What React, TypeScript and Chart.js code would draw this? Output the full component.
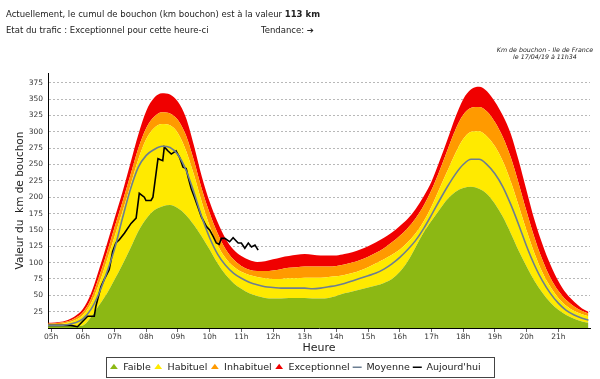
import React, { useEffect, useRef } from "react";
import { Chart, registerables } from "chart.js";
Chart.register(...registerables);

const hours = [4.9, 5.0, 5.25, 5.5, 5.75, 6.0, 6.25, 6.5, 6.75, 7.0, 7.25, 7.5, 7.75, 8.0, 8.25, 8.5, 8.75, 9.0, 9.25, 9.5, 9.75, 10.0, 10.25, 10.5, 10.75, 11.0, 11.25, 11.5, 11.75, 12.0, 12.25, 12.5, 12.75, 13.0, 13.25, 13.5, 13.75, 14.0, 14.25, 14.5, 14.75, 15.0, 15.25, 15.5, 15.75, 16.0, 16.25, 16.5, 16.75, 17.0, 17.25, 17.5, 17.75, 18.0, 18.25, 18.5, 18.75, 19.0, 19.25, 19.5, 19.75, 20.0, 20.25, 20.5, 20.75, 21.0, 21.25, 21.5, 21.75, 21.95];

const faible = [3, 3, 3, 3, 3, 4, 16, 34, 52, 74, 97, 122, 148, 167, 180, 186, 188, 183, 173, 158, 140, 120, 99, 82, 69, 60, 53, 49, 46, 45, 45, 46, 46, 46, 45, 45, 46, 49, 53, 56, 59, 62, 65, 69, 75, 86, 102, 124, 146, 164, 181, 197, 208, 214, 216, 213, 205, 190, 170, 145, 118, 94, 72, 54, 39, 28, 20, 14, 10, 8];

const habituel = [6, 6, 6, 8, 12, 20, 37, 66, 102, 140, 178, 218, 258, 289, 306, 312, 310, 298, 272, 235, 193, 156, 127, 107, 94, 86, 81, 78, 76, 75, 75, 76, 76, 77, 77, 77, 78, 79, 81, 84, 88, 93, 99, 105, 112, 120, 131, 145, 163, 186, 213, 240, 267, 289, 300, 301, 293, 278, 255, 224, 187, 149, 114, 85, 63, 46, 34, 26, 21, 18];

const inhabituel = [7, 7, 8, 10, 15, 24, 44, 77, 114, 154, 193, 234, 275, 306, 323, 330, 328, 318, 295, 257, 213, 176, 145, 121, 105, 95, 89, 87, 87, 88, 90, 92, 93, 94, 94, 94, 94, 95, 97, 100, 104, 109, 115, 122, 131, 141, 153, 168, 187, 211, 240, 272, 303, 326, 337, 338, 331, 315, 292, 261, 221, 178, 138, 104, 77, 57, 43, 33, 26, 22];

const exceptionnel = [8, 8, 9, 12, 18, 29, 52, 88, 127, 168, 208, 252, 296, 332, 352, 359, 357, 346, 322, 280, 232, 193, 162, 137, 120, 110, 104, 101, 102, 105, 108, 110, 112, 113, 112, 111, 111, 111, 113, 116, 120, 125, 131, 138, 146, 156, 167, 182, 201, 224, 255, 288, 322, 350, 365, 369, 362, 346, 325, 297, 256, 210, 165, 128, 97, 72, 53, 40, 30, 25];

const moyenne = [4, 4, 4, 5, 8, 14, 28, 52, 84, 121, 168, 212, 246, 264, 273, 278, 276, 265, 242, 208, 170, 138, 113, 96, 84, 76, 70, 66, 63, 62, 61, 61, 61, 61, 60, 61, 63, 65, 68, 72, 76, 80, 84, 90, 98, 108, 120, 134, 152, 173, 195, 216, 235, 250, 258, 258, 250, 236, 216, 189, 158, 125, 96, 72, 53, 38, 27, 20, 15, 12];

const todayHours = [4.9, 5.62, 5.83, 5.99, 6.15, 6.36, 6.41, 6.57, 6.67, 6.83, 6.94, 7.04, 7.15, 7.31, 7.52, 7.68, 7.78, 7.94, 7.99, 8.15, 8.21, 8.37, 8.52, 8.57, 8.68, 8.79, 8.94, 9.05, 9.16, 9.26, 9.32, 9.42, 9.52, 9.63, 9.74, 9.9, 10.0, 10.11, 10.21, 10.3, 10.37, 10.48, 10.63, 10.74, 10.9, 11.0, 11.11, 11.22, 11.32, 11.43, 11.53];
const todayValues = [4, 4, 2, 10, 18, 18, 33, 63, 74, 89, 117, 130, 135, 145, 160, 168, 206, 200, 195, 195, 200, 259, 256, 277, 271, 266, 271, 261, 246, 244, 231, 213, 200, 185, 170, 155, 150, 140, 130, 128, 137, 137, 132, 138, 130, 130, 122, 130, 124, 127, 119];

const hourTicks = [5, 6, 7, 8, 9, 10, 11, 12, 13, 14, 15, 16, 17, 18, 19, 20, 21];
const hourLabels = ["05h", "06h", "07h", "08h", "09h", "10h", "11h", "12h", "13h", "14h", "15h", "16h", "17h", "18h", "19h", "20h", "21h"];
const yTicks = [25, 50, 75, 100, 125, 150, 175, 200, 225, 250, 275, 300, 325, 350, 375];

const FONT = "'DejaVu Sans', Verdana, sans-serif";

const legendBorder = {
  id: "legendBorder",
  afterDraw(chart: any) {
    const lg = chart.legend;
    if (!lg || !lg.legendHitBoxes || !lg.legendHitBoxes.length) return;
    const hb = lg.legendHitBoxes;
    const left = Math.min(...hb.map((b: any) => b.left)) - 3;
    const right = Math.max(...hb.map((b: any) => b.left + b.width)) + 14;
    const cy = hb[0].top + hb[0].height / 2;
    const ctx = chart.ctx;
    ctx.save();
    ctx.strokeStyle = "#444";
    ctx.lineWidth = 1;
    ctx.strokeRect(Math.round(left) + 0.5, Math.round(cy - 10) + 0.5, Math.round(right - left), 20);
    ctx.restore();
  },
};

function pts(vals: number[]) {
  return hours.map((h, i) => ({ x: h, y: vals[i] }));
}

export default function App() {
  const ref = useRef<HTMLCanvasElement | null>(null);
  useEffect(() => {
    document.body.style.margin = "0";
    const canvas = ref.current;
    if (!canvas) return;
    const area = (label: string, vals: number[], color: string, fill: any) => ({
      type: "line" as const,
      label,
      data: pts(vals),
      backgroundColor: color,
      borderColor: color,
      borderWidth: 0,
      pointRadius: 0,
      fill,
      cubicInterpolationMode: "monotone" as const,
      pointStyle: "triangle",
    });
    const chart = new Chart(canvas, {
      type: "line",
      data: {
        datasets: [
          area("Faible", faible, "#8CB814", "origin"),
          area("Habituel", habituel, "#FFEA00", "-1"),
          area("Inhabituel", inhabituel, "#FF9A00", "-1"),
          area("Exceptionnel", exceptionnel, "#F00000", "-1"),
          {
            label: "Moyenne",
            data: pts(moyenne),
            borderColor: "#6C7E92",
            backgroundColor: "#6C7E92",
            borderWidth: 1.6,
            pointRadius: 0,
            fill: false,
            cubicInterpolationMode: "monotone",
            pointStyle: "line",
          },
          {
            label: "Aujourd'hui",
            data: todayHours.map((h, i) => ({ x: h, y: todayValues[i] })),
            borderColor: "#000000",
            backgroundColor: "#000000",
            borderWidth: 1.6,
            pointRadius: 0,
            fill: false,
            tension: 0,
            pointStyle: "line",
          },
        ],
      },
      options: {
        responsive: false,
        animation: false,
        devicePixelRatio: 1,
        events: [],
        layout: { padding: { top: 73, right: 10, bottom: -3, left: 0 } },
        plugins: {
          filler: { drawTime: "beforeDatasetsDraw" },
          tooltip: { enabled: false },
          title: { display: false },
          legend: {
            display: true,
            position: "bottom",
            labels: {
              usePointStyle: true,
              pointStyleWidth: 9,
              boxHeight: 5,
              padding: 3,
              color: "#222",
              font: { family: FONT, size: 9.5 },
            },
          },
        },
        scales: {
          x: {
            type: "linear",
            min: 4.9,
            max: 22,
            afterBuildTicks: (s: any) => {
              s.ticks = hourTicks.map((v) => ({ value: v }));
            },
            afterFit: (s: any) => {
              s.height = 31.5;
            },
            ticks: {
              autoSkip: false,
              maxRotation: 0,
              padding: 1,
              color: "#333",
              font: { family: FONT, size: 7.5 },
              callback: (v: any) => {
                const i = hourTicks.indexOf(Number(v));
                return i >= 0 ? hourLabels[i] : "";
              },
            },
            grid: { drawOnChartArea: false, drawTicks: true, tickLength: 4, color: "#666" },
            border: { display: true, color: "#000", width: 1 },
            title: {
              display: true,
              text: "Heure",
              color: "#222",
              font: { family: FONT, size: 11 },
              padding: { top: 0, bottom: 5 },
            },
          },
          y: {
            min: 0,
            max: 390,
            afterBuildTicks: (s: any) => {
              s.ticks = yTicks.map((v) => ({ value: v }));
            },
            afterFit: (s: any) => {
              s.width = 48;
            },
            ticks: {
              padding: 5,
              color: "#333",
              font: { family: FONT, size: 7.5 },
            },
            grid: { drawTicks: false, color: "#b8b8b8", lineWidth: 1 },
            border: { display: true, color: "#000", width: 1, dash: [2, 2] },
            title: {
              display: true,
              text: "Valeur du  km de bouchon",
              color: "#222",
              font: { family: FONT, size: 10.5 },
              padding: { top: 14, bottom: 0 },
            },
          },
        },
      },
      plugins: [legendBorder],
    } as any);
    return () => chart.destroy();
  }, []);

  const txt: React.CSSProperties = {
    position: "absolute",
    fontFamily: FONT,
    fontSize: "8.5px",
    lineHeight: "10px",
    color: "#222",
    whiteSpace: "nowrap",
  };
  const small: React.CSSProperties = {
    position: "absolute",
    fontFamily: FONT,
    fontSize: "6.3px",
    fontStyle: "italic",
    lineHeight: "7px",
    color: "#222",
    whiteSpace: "nowrap",
    textAlign: "center",
    width: "120px",
    left: "485px",
  };
  return (
    <div style={{ position: "relative", width: 600, height: 379, background: "#fff", overflow: "hidden" }}>
      <canvas ref={ref} width={600} height={379} style={{ position: "absolute", left: 0, top: 0, width: 600, height: 379 }} />
      <div style={{ ...txt, left: 6, top: 9 }}>
        Actuellement, le cumul de bouchon (km bouchon) est à la valeur <b>113 km</b>
      </div>
      <div style={{ ...txt, left: 6, top: 25 }}>Etat du trafic : Exceptionnel pour cette heure-ci</div>
      <div style={{ ...txt, left: 261, top: 25 }}>
        Tendance: <b>➔</b>
      </div>
      <div style={{ ...small, top: 46 }}>Km de bouchon - Ile de France</div>
      <div style={{ ...small, top: 53 }}>le 17/04/19 à 11h34</div>
    </div>
  );
}
